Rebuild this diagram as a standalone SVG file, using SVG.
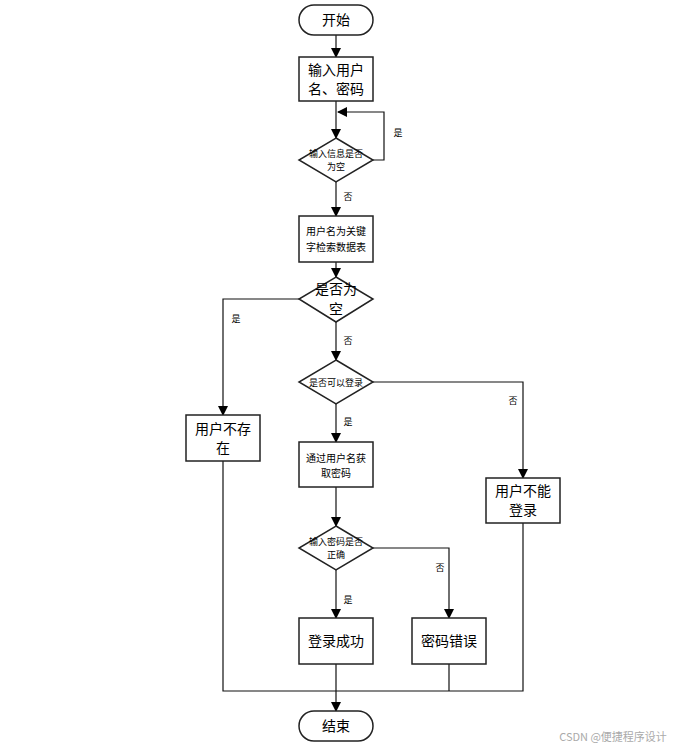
<svg xmlns="http://www.w3.org/2000/svg" width="682" height="751" viewBox="0 0 682 751">
<style>
.s{fill:#fff;stroke:#222;stroke-width:1.5}
.c{fill:none;stroke:#111;stroke-width:1.2}
text{font-family:"Noto Sans CJK SC","Liberation Sans",sans-serif;fill:#000;text-anchor:middle}
.b{font-size:14px}.m{font-size:10px}.l{font-size:9px}
</style>
<defs><marker id="a" markerWidth="10" markerHeight="10" refX="9" refY="5" orient="auto" markerUnits="userSpaceOnUse"><path d="M0,0L10,5L0,10z" fill="#000"/></marker></defs>
<rect width="682" height="751" fill="#fff"/>
<g id="connectors" class="c">
<path d="M336,35V57" marker-end="url(#a)"/>
<path d="M336,101V138" marker-end="url(#a)"/>
<path d="M373,160H384V112H338" marker-end="url(#a)"/>
<path d="M336,182V216" marker-end="url(#a)"/>
<path d="M336,262V277" marker-end="url(#a)"/>
<path d="M299,299H223V415" marker-end="url(#a)"/>
<path d="M336,322V360" marker-end="url(#a)"/>
<path d="M373,382H523V478" marker-end="url(#a)"/>
<path d="M336,404V442" marker-end="url(#a)"/>
<path d="M336,487V526" marker-end="url(#a)"/>
<path d="M373,548H449V618" marker-end="url(#a)"/>
<path d="M336,570V618" marker-end="url(#a)"/>
<path d="M223,461V691H523V523M449,664V691M336,664V711" marker-end="url(#a)"/>
</g>
<g id="labels">
<text class="l" x="398" y="136">是</text>
<text class="l" x="348" y="200">否</text>
<text class="l" x="236" y="322">是</text>
<text class="l" x="348" y="344">否</text>
<text class="l" x="513" y="404">否</text>
<text class="l" x="348" y="425">是</text>
<text class="l" x="440" y="571">否</text>
<text class="l" x="348" y="603">是</text>
</g>
<g id="start"><rect class="s" x="299" y="5" width="74" height="30" rx="15"/><text class="b" x="336" y="25">开始</text></g>
<g id="input"><rect class="s" x="299" y="57" width="74" height="44"/><text class="b" x="336" y="75">输入用户</text><text class="b" x="336" y="94">名、密码</text></g>
<g id="d1"><path class="s" d="M336,138L373,160L336,182L299,160z"/><text class="l" x="336" y="157">输入信息是否</text><text class="l" x="336" y="170">为空</text></g>
<g id="search"><rect class="s" x="299" y="216" width="74" height="46"/><text class="m" x="336" y="235">用户名为关键</text><text class="m" x="336" y="251">字检索数据表</text></g>
<g id="d2"><path class="s" d="M336,277L373,299L336,322L299,299z"/><text class="b" x="336" y="294">是否为</text><text class="b" x="336" y="314">空</text></g>
<g id="noexist"><rect class="s" x="186" y="415" width="74" height="46"/><text class="b" x="223" y="434">用户不存</text><text class="b" x="223" y="453">在</text></g>
<g id="d3"><path class="s" d="M336,360L373,382L336,404L299,382z"/><text class="l" x="336" y="386">是否可以登录</text></g>
<g id="cannot"><rect class="s" x="486" y="478" width="74" height="45"/><text class="b" x="523" y="496">用户不能</text><text class="b" x="523" y="515">登录</text></g>
<g id="getpw"><rect class="s" x="299" y="442" width="74" height="45"/><text class="m" x="336" y="462">通过用户名获</text><text class="m" x="336" y="477">取密码</text></g>
<g id="d4"><path class="s" d="M336,526L373,548L336,570L299,548z"/><text class="l" x="336" y="545">输入密码是否</text><text class="l" x="336" y="558">正确</text></g>
<g id="ok"><rect class="s" x="299" y="618" width="74" height="46"/><text class="b" x="336" y="646">登录成功</text></g>
<g id="err"><rect class="s" x="412" y="618" width="74" height="46"/><text class="b" x="449" y="646">密码错误</text></g>
<g id="end"><rect class="s" x="299" y="711" width="74" height="30" rx="15"/><text class="b" x="336" y="731">结束</text></g>
<text x="613" y="741" style="font-size:11px;fill:#aaa">CSDN @便捷程序设计</text>
</svg>
